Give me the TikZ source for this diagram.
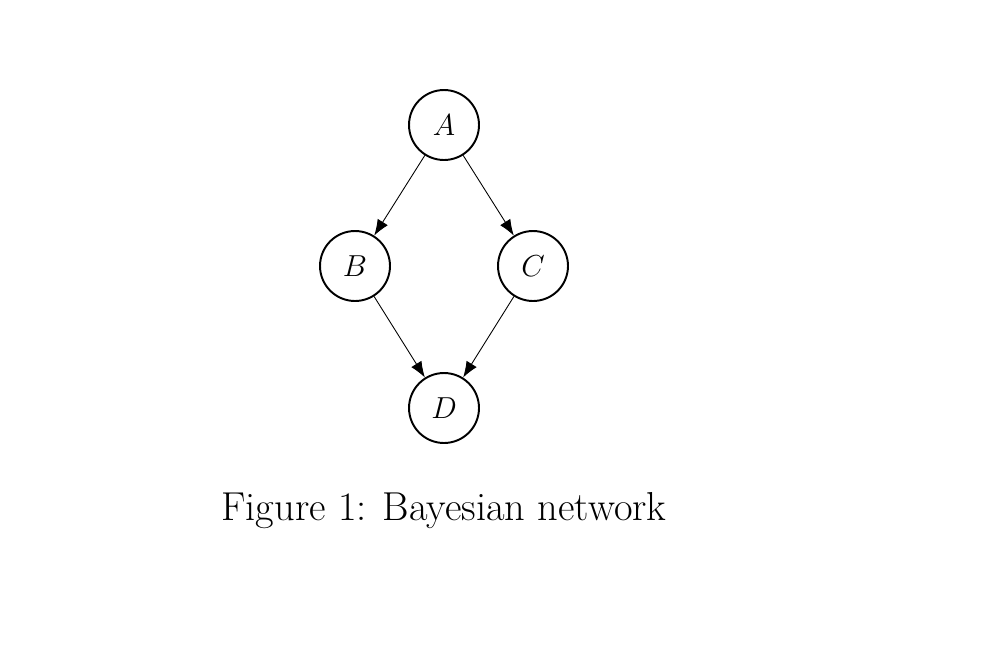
\documentclass[tikz,border=0pt]{standalone}
\usetikzlibrary{arrows.meta}
\begin{document}
\begin{tikzpicture}[x=0.02cm,y=-0.02cm,
  var/.style={circle,draw,line width=1.1pt,minimum size=1.4cm,inner sep=0pt,font=\fontsize{17}{20}\selectfont},
  edge/.style={-{Latex[length=0.32cm,width=0.24cm]},line width=0.5pt}]
\useasboundingbox (0,0) rectangle (994,646);
\node[var] (A) at (444,125) {$A$};
\node[var] (B) at (355,266) {$B$};
\node[var] (C) at (533,266) {$C$};
\node[var] (D) at (444,408) {$D$};
\draw[edge] (A) -- (B);
\draw[edge] (A) -- (C);
\draw[edge] (B) -- (D);
\draw[edge] (C) -- (D);
\node (cap) at (444,511) {\fontsize{23}{27}\selectfont Figure 1: Bayesian network};
\end{tikzpicture}
\end{document}
